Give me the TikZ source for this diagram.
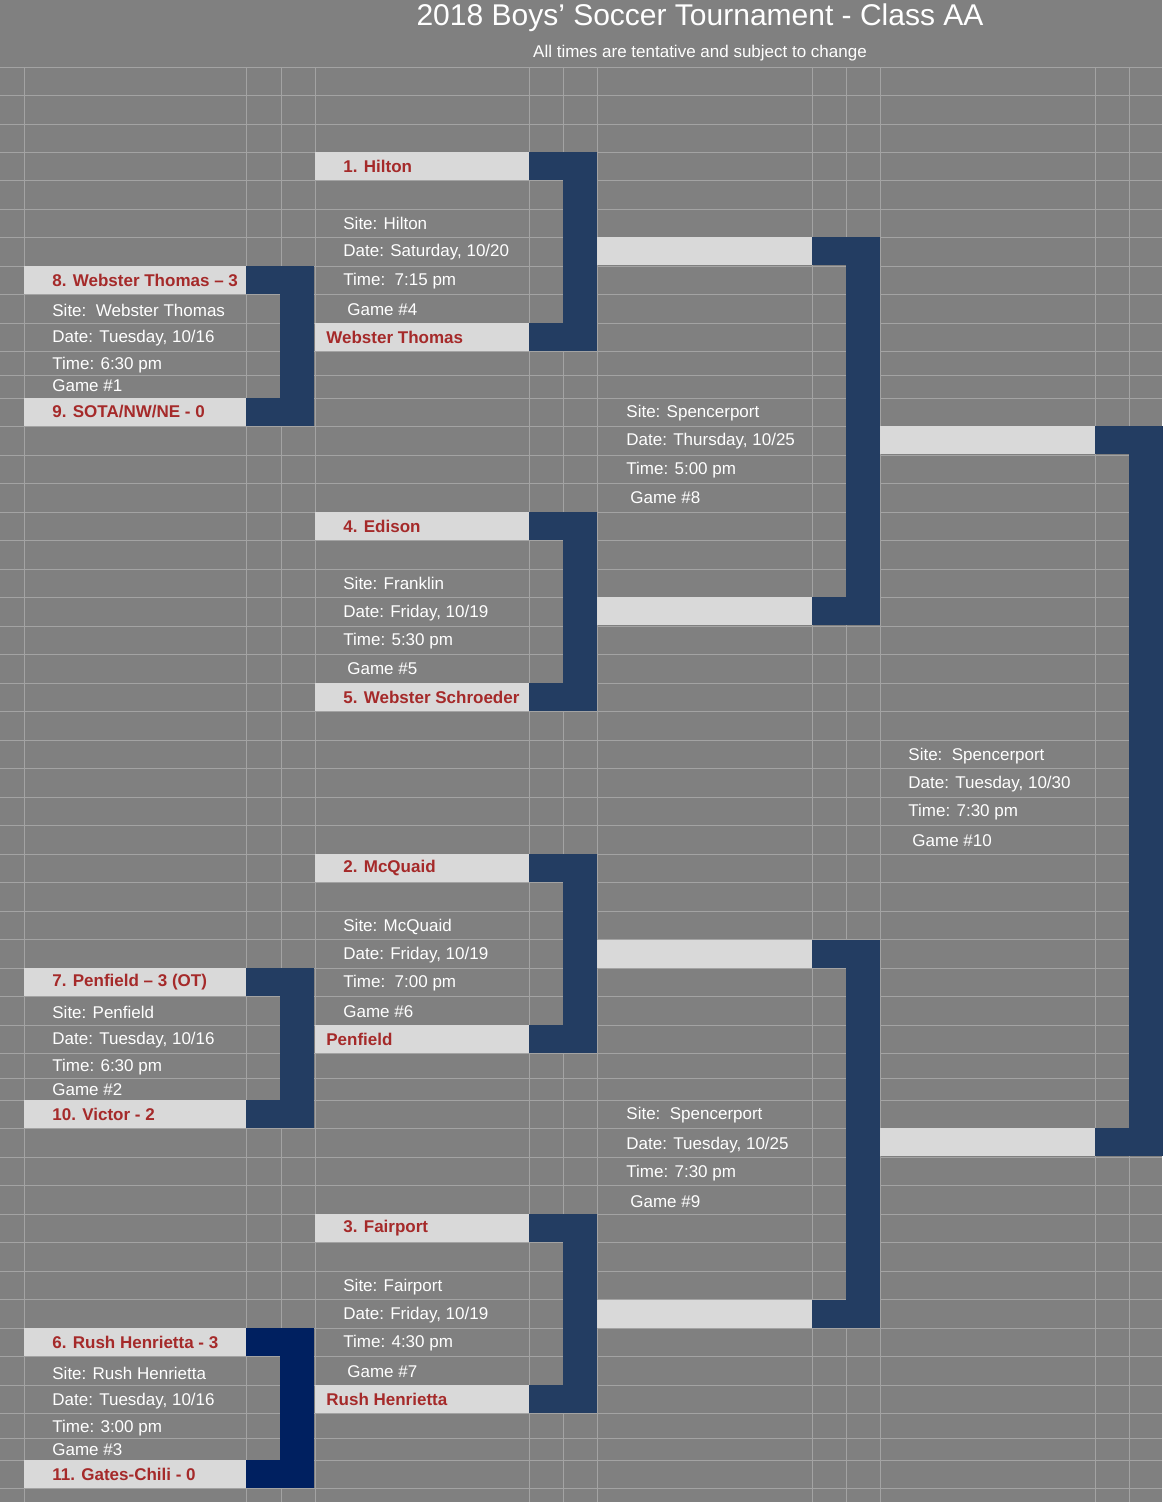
\documentclass[tikz,border=0pt]{standalone}
\usepackage{fontspec}
\setmainfont{Liberation Sans}
\definecolor{sheet}{HTML}{808080}
\definecolor{gridln}{HTML}{A3A3A3}
\definecolor{slot}{HTML}{D9D9D9}
\definecolor{navy}{HTML}{233D62}
\definecolor{deepnavy}{HTML}{002060}
\definecolor{teamred}{HTML}{A52A2A}
\tikzset{
    team/.style={anchor=west, inner sep=0pt, text=teamred, font=\bfseries\fontsize{8.5}{10}\selectfont},
    info/.style={anchor=west, inner sep=0pt, text=white, font=\fontsize{8.5}{10}\selectfont}
}
% #1 slot left, #2 slot right, #3 top row, #4 bottom row, #5 colour
\newcommand\pairing[5]{%
    \fill[slot] (#1,#3) rectangle (#2,#3+28);
    \fill[slot] (#1,#4) rectangle (#2,#4+28);
    \fill[#5] (#2,#3) rectangle (#2+68,#3+28);
    \fill[#5] (#2,#4) rectangle (#2+68,#4+28);
    \fill[#5] (#2+34,#3) rectangle (#2+68,#4+28);
}
\begin{document}
\begin{tikzpicture}[x=0.5pt,y=-0.5pt]
    \useasboundingbox (0,0) rectangle (1162,1502);
    \fill[sheet] (0,0) rectangle (1162,1502);

    % grid
    \foreach \gx in {24,246,281,315,529,563,597,812,846,880,1095,1129}
        \draw[gridln, line width=0.4pt] (\gx,67) -- (\gx,1502);
    \foreach \gy in {67,95,124,152,180,209,237,266,294,323,351,375,398,426,455,483,512,540,569,597,626,654,683,711,740,768,797,825,854,882,911,939,968,996,1025,1053,1078,1100,1128,1157,1185,1214,1242,1271,1299,1328,1356,1385,1413,1438,1460,1488}
        \draw[gridln, line width=0.4pt] (0,\gy) -- (1162,\gy);

    % title
    \node[text=white, font=\fontsize{15}{18}\selectfont] (title) at (700,18) {2018 Boys' Soccer Tournament - Class AA};
    \node[text=white, font=\fontsize{8.5}{10}\selectfont] (subtitle) at (700,53) {All times are tentative and subject to change};

    % bracket blocks
    \pairing{24}{246}{266}{398}{navy}
    \pairing{24}{246}{968}{1100}{navy}
    \pairing{24}{246}{1328}{1460}{deepnavy}
    \pairing{315}{529}{152}{323}{navy}
    \pairing{315}{529}{512}{683}{navy}
    \pairing{315}{529}{854}{1025}{navy}
    \pairing{315}{529}{1214}{1385}{navy}
    \pairing{597}{812}{237}{597}{navy}
    \pairing{597}{812}{940}{1300}{navy}
    \pairing{880}{1095}{426}{1128}{navy}

    % round one
    \node[team] (g1a) at (52,280) {8. Webster Thomas – 3};
    \node[info] (g1s) at (52,310) {Site:\ \ Webster Thomas};
    \node[info] (g1d) at (52,338) {Date: Tuesday, 10/16};
    \node[info] (g1t) at (52,365) {Time: 6:30 pm};
    \node[info] (g1g) at (52,386) {Game \#1};
    \node[team] (g1b) at (52,412) {9. SOTA/NW/NE - 0};

    \node[team] (g2a) at (52,982) {7. Penfield – 3 (OT)};
    \node[info] (g2s) at (52,1012) {Site: Penfield};
    \node[info] (g2d) at (52,1040) {Date: Tuesday, 10/16};
    \node[info] (g2t) at (52,1067) {Time: 6:30 pm};
    \node[info] (g2g) at (52,1090) {Game \#2};
    \node[team] (g2b) at (52,1114) {10. Victor - 2};

    \node[team] (g3a) at (52,1342) {6. Rush Henrietta - 3};
    \node[info] (g3s) at (52,1373) {Site: Rush Henrietta};
    \node[info] (g3d) at (52,1401) {Date: Tuesday, 10/16};
    \node[info] (g3t) at (52,1428) {Time: 3:00 pm};
    \node[info] (g3g) at (52,1450) {Game \#3};
    \node[team] (g3b) at (52,1474) {11. Gates-Chili - 0};

    % round two
    \node[team] (g4a) at (343,166) {1. Hilton};
    \node[info] (g4s) at (343,223) {Site: Hilton};
    \node[info] (g4d) at (343,252) {Date: Saturday, 10/20};
    \node[info] (g4t) at (343,281) {Time:\ \ 7:15 pm};
    \node[info] (g4g) at (347,310) {Game \#4};
    \node[team] (g4b) at (326,337) {Webster Thomas};

    \node[team] (g5a) at (343,526) {4. Edison};
    \node[info] (g5s) at (343,583) {Site: Franklin};
    \node[info] (g5d) at (343,613) {Date: Friday, 10/19};
    \node[info] (g5t) at (343,641) {Time: 5:30 pm};
    \node[info] (g5g) at (347,669) {Game \#5};
    \node[team] (g5b) at (343,697) {5. Webster Schroeder};

    \node[team] (g6a) at (343,868) {2. McQuaid};
    \node[info] (g6s) at (343,927) {Site: McQuaid};
    \node[info] (g6d) at (343,955) {Date: Friday, 10/19};
    \node[info] (g6t) at (343,983) {Time:\ \ 7:00 pm};
    \node[info] (g6g) at (343,1012) {Game \#6};
    \node[team] (g6b) at (326,1039) {Penfield};

    \node[team] (g7a) at (343,1228) {3. Fairport};
    \node[info] (g7s) at (343,1287) {Site: Fairport};
    \node[info] (g7d) at (343,1315) {Date: Friday, 10/19};
    \node[info] (g7t) at (343,1343) {Time: 4:30 pm};
    \node[info] (g7g) at (347,1372) {Game \#7};
    \node[team] (g7b) at (326,1399) {Rush Henrietta};

    % semifinals
    \node[info] (g8s) at (626,413) {Site: Spencerport};
    \node[info] (g8d) at (626,441) {Date: Thursday, 10/25};
    \node[info] (g8t) at (626,470) {Time: 5:00 pm};
    \node[info] (g8g) at (630,498) {Game \#8};

    \node[info] (g9s) at (626,1115) {Site:\ \ Spencerport};
    \node[info] (g9d) at (626,1145) {Date: Tuesday, 10/25};
    \node[info] (g9t) at (626,1173) {Time: 7:30 pm};
    \node[info] (g9g) at (630,1202) {Game \#9};

    % final
    \node[info] (g10s) at (908,756) {Site:\ \ Spencerport};
    \node[info] (g10d) at (908,784) {Date: Tuesday, 10/30};
    \node[info] (g10t) at (908,812) {Time: 7:30 pm};
    \node[info] (g10g) at (912,841) {Game \#10};
\end{tikzpicture}
\end{document}
